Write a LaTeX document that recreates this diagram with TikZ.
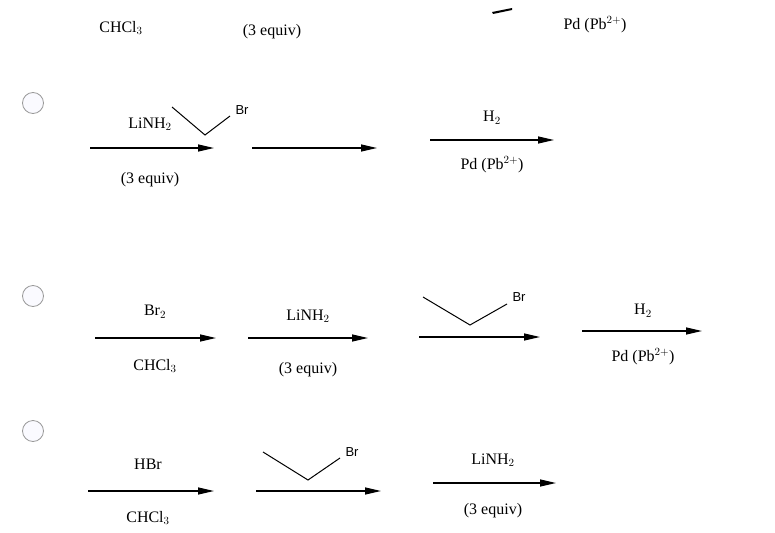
\documentclass[tikz,border=0pt]{standalone}
\usepackage{fontspec}
\setmainfont{Liberation Serif}
\newfontfamily\sansf{Liberation Sans}
\usetikzlibrary{arrows.meta}
\begin{document}
\begin{tikzpicture}[x=1pt,y=-1pt,
  t/.style={font=\fontsize{16}{18}\selectfont,inner sep=0pt},
  br/.style={font=\sansf\fontsize{13}{14}\selectfont,inner sep=0pt},
  arr/.style={line width=1.3pt,-{Triangle[length=16pt,width=7pt]}},
  bond/.style={line width=1pt},
  rad/.style={circle,draw=gray!80,fill=blue!2,minimum size=21pt,inner sep=0pt,line width=0.8pt}]
\useasboundingbox (0,0) rectangle (775,532);
% top fragment
\node[t] (t1) at (121,28) {CHCl$_3$};
\node[t] (t2) at (272,32) {(3 equiv)};
\fill (492,12) -- (512,8) -- (512,10) -- (493,14) -- cycle;
\node[t] (t3) at (595,25) {Pd (Pb$^{2+}$)};
% row 1
\node[rad] (r1) at (33,103) {};
\node[t] (a1) at (150,124) {LiNH$_2$};
\node[t] (b1) at (150,180) {(3 equiv)};
\coordinate (a1s) at (90,148); \coordinate (a1e) at (214,148);
\draw[arr] (a1s) -- (a1e);
\coordinate (m1a) at (172,107); \coordinate (m1b) at (205,135); \coordinate (m1c) at (230,116);
\draw[bond] (m1a) -- (m1b) -- (m1c);
\node[br] (br1) at (242,110) {Br};
\coordinate (a2s) at (252,148); \coordinate (a2e) at (377,148);
\draw[arr] (a2s) -- (a2e);
\node[t] (h1) at (492,118) {H$_2$};
\node[t] (p1) at (492,165) {Pd (Pb$^{2+}$)};
\coordinate (a3s) at (430,140); \coordinate (a3e) at (554,140);
\draw[arr] (a3s) -- (a3e);
% row 2
\node[rad] (r2) at (33,296) {};
\node[t] (a4) at (155,312) {Br$_2$};
\node[t] (b4) at (155,366) {CHCl$_3$};
\coordinate (a4s) at (95,338); \coordinate (a4e) at (216,338);
\draw[arr] (a4s) -- (a4e);
\node[t] (a5) at (308,316) {LiNH$_2$};
\node[t] (b5) at (308,370) {(3 equiv)};
\coordinate (a5s) at (248,338); \coordinate (a5e) at (368,338);
\draw[arr] (a5s) -- (a5e);
\coordinate (m2a) at (423,297); \coordinate (m2b) at (470,325); \coordinate (m2c) at (507,304);
\draw[bond] (m2a) -- (m2b) -- (m2c);
\node[br] (br2) at (519,297) {Br};
\coordinate (a6s) at (419,337); \coordinate (a6e) at (540,337);
\draw[arr] (a6s) -- (a6e);
\node[t] (h2) at (643,311) {H$_2$};
\node[t] (p2) at (643,357) {Pd (Pb$^{2+}$)};
\coordinate (a7s) at (582,331); \coordinate (a7e) at (702,331);
\draw[arr] (a7s) -- (a7e);
% row 3
\node[rad] (r3) at (33,431) {};
\node[t] (a8) at (148,464) {HBr};
\node[t] (b8) at (148,518) {CHCl$_3$};
\coordinate (a8s) at (88,491); \coordinate (a8e) at (214,491);
\draw[arr] (a8s) -- (a8e);
\coordinate (m3a) at (263,452); \coordinate (m3b) at (308,480); \coordinate (m3c) at (340,458);
\draw[bond] (m3a) -- (m3b) -- (m3c);
\node[br] (br3) at (352,452) {Br};
\coordinate (a9s) at (256,491); \coordinate (a9e) at (381,491);
\draw[arr] (a9s) -- (a9e);
\node[t] (a10) at (493,460) {LiNH$_2$};
\node[t] (b10) at (493,511) {(3 equiv)};
\coordinate (a10s) at (433,483); \coordinate (a10e) at (556,483);
\draw[arr] (a10s) -- (a10e);
\end{tikzpicture}
\end{document}
